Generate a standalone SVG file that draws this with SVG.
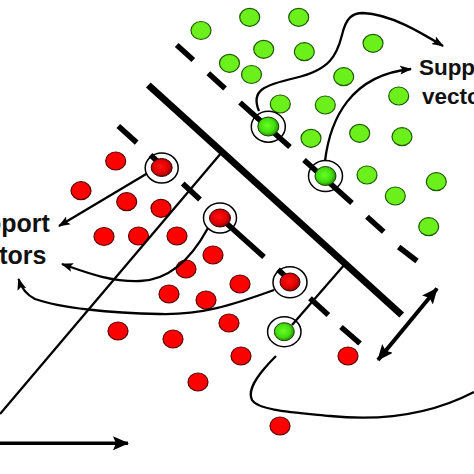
<svg xmlns="http://www.w3.org/2000/svg" width="474" height="474" viewBox="0 0 474 474">
<defs>
<radialGradient id="gR" cx="0.45" cy="0.45" r="0.6">
<stop offset="0" stop-color="#ff1010"/><stop offset="0.6" stop-color="#e00000"/><stop offset="1" stop-color="#7a0000"/>
</radialGradient>
<radialGradient id="gG" cx="0.45" cy="0.45" r="0.6">
<stop offset="0" stop-color="#66ff22"/><stop offset="0.6" stop-color="#44dd10"/><stop offset="1" stop-color="#1a7a00"/>
</radialGradient>
<marker id="ah" markerUnits="userSpaceOnUse" markerWidth="12" markerHeight="10" viewBox="0 0 12 10" refX="11" refY="5" orient="auto">
<path d="M0,0.5 L12,5 L0,9.5 L2.5,5 z" fill="#000"/>
</marker>
<marker id="ahb" markerUnits="userSpaceOnUse" markerWidth="16" markerHeight="14" viewBox="0 0 16 14" refX="15" refY="7" orient="auto-start-reverse">
<path d="M0,0 L16,7 L0,14 L3,7 z" fill="#000"/>
</marker>
</defs>
<style>
.r{fill:#ff0000;stroke:#5a0000;stroke-width:1.2}
.g{fill:#6cf01c;stroke:#1f5a00;stroke-width:1.2}
.ring{fill:none;stroke:#000;stroke-width:1.5}
.ri{fill:url(#gR);stroke:#3a0000;stroke-width:1}
.gi{fill:url(#gG);stroke:#1a4000;stroke-width:1}
.dash{stroke:#000;stroke-width:5.5;stroke-linecap:butt;fill:none}
.thin{stroke:#000;stroke-width:2.3;fill:none}
.lbl{font-family:"Liberation Sans",Arial,sans-serif;font-weight:bold;fill:#111;text-anchor:middle}
</style>
<rect width="474" height="474" fill="#fff"/>

<g id="red-points">
<g id="r1"><ellipse class="r" cx="115.7" cy="161" rx="10" ry="9"/></g>
<g id="r2"><ellipse class="r" cx="81" cy="190.7" rx="10" ry="9"/></g>
<g id="r3"><ellipse class="r" cx="126.7" cy="201.7" rx="10" ry="9"/></g>
<g id="r4"><ellipse class="r" cx="161" cy="208.3" rx="10" ry="9"/></g>
<g id="r5"><ellipse class="r" cx="104" cy="236.5" rx="10" ry="9"/></g>
<g id="r6"><ellipse class="r" cx="138.5" cy="236" rx="10" ry="9"/></g>
<g id="r7"><ellipse class="r" cx="177" cy="236" rx="10" ry="9"/></g>
<g id="r8"><ellipse class="r" cx="213" cy="255" rx="10" ry="9"/></g>
<g id="r9"><ellipse class="r" cx="186" cy="269" rx="10" ry="9"/></g>
<g id="r10"><ellipse class="r" cx="169" cy="294" rx="10" ry="9"/></g>
<g id="r11"><ellipse class="r" cx="206" cy="300" rx="10" ry="9"/></g>
<g id="r12"><ellipse class="r" cx="240" cy="284" rx="10" ry="9"/></g>
<g id="r13"><ellipse class="r" cx="229" cy="323" rx="10" ry="9"/></g>
<g id="r14"><ellipse class="r" cx="241" cy="356" rx="10" ry="9"/></g>
<g id="r15"><ellipse class="r" cx="118" cy="331" rx="10" ry="9"/></g>
<g id="r16"><ellipse class="r" cx="173" cy="339" rx="10" ry="9"/></g>
<g id="r17"><ellipse class="r" cx="198" cy="382" rx="10" ry="9"/></g>
<g id="r18"><ellipse class="r" cx="348" cy="356" rx="10" ry="9"/></g>
<g id="r19"><ellipse class="r" cx="280" cy="426" rx="10" ry="9"/></g>
</g>

<g id="green-points">
<g id="g1"><ellipse class="g" cx="201" cy="30.5" rx="10" ry="9"/></g>
<g id="g2"><ellipse class="g" cx="249.7" cy="17.3" rx="10" ry="9"/></g>
<g id="g3"><ellipse class="g" cx="298.7" cy="17.3" rx="10" ry="9"/></g>
<g id="g4"><ellipse class="g" cx="229.5" cy="63.3" rx="10" ry="9"/></g>
<g id="g5"><ellipse class="g" cx="263.7" cy="49.3" rx="10" ry="9"/></g>
<g id="g6"><ellipse class="g" cx="304.3" cy="51.7" rx="10" ry="9"/></g>
<g id="g7"><ellipse class="g" cx="373" cy="43.3" rx="10" ry="9"/></g>
<g id="g8"><ellipse class="g" cx="251.5" cy="74.5" rx="10" ry="9"/></g>
<g id="g9"><ellipse class="g" cx="343.7" cy="76.7" rx="10" ry="9"/></g>
<g id="g10"><ellipse class="g" cx="280.3" cy="104" rx="10" ry="9"/></g>
<g id="g11"><ellipse class="g" cx="325.3" cy="105" rx="10" ry="9"/></g>
<g id="g12"><ellipse class="g" cx="398.7" cy="96" rx="10" ry="9"/></g>
<g id="g13"><ellipse class="g" cx="359.7" cy="133.3" rx="10" ry="9"/></g>
<g id="g14"><ellipse class="g" cx="402" cy="136.7" rx="10" ry="9"/></g>
<g id="g15"><ellipse class="g" cx="311" cy="138.3" rx="10" ry="9"/></g>
<g id="g16"><ellipse class="g" cx="367" cy="175" rx="10" ry="9"/></g>
<g id="g17"><ellipse class="g" cx="395.3" cy="196" rx="10" ry="9"/></g>
<g id="g18"><ellipse class="g" cx="436.3" cy="181.7" rx="10" ry="9"/></g>
<g id="g19"><ellipse class="g" cx="428.7" cy="226.7" rx="10" ry="9"/></g>
</g>

<g id="connectors">
<line x1="148.3" y1="85" x2="401.7" y2="315" stroke="#000" stroke-width="7"/>
<g id="upper-margin">
<line class="dash" x1="176.7" y1="45" x2="193.3" y2="60"/>
<line class="dash" x1="208.3" y1="73.3" x2="225" y2="88.5"/>
<line class="dash" x1="240" y1="102.5" x2="290" y2="147"/>
<line class="dash" x1="304" y1="160" x2="352" y2="203"/>
<line class="dash" x1="367" y1="216.7" x2="383.7" y2="231.7"/>
<line class="dash" x1="398.7" y1="247" x2="417" y2="261"/>
</g>
<g id="lower-margin">
<line class="dash" x1="118.3" y1="126" x2="136.7" y2="142.6"/>
<line class="dash" x1="150.5" y1="155" x2="162" y2="165.5"/>
<line class="dash" x1="182.7" y1="183.5" x2="200" y2="199.6"/>
<line class="dash" x1="220" y1="217.5" x2="264" y2="257"/>
<line class="dash" x1="278" y1="269.5" x2="290" y2="280.5"/>
<line class="dash" x1="310" y1="298.3" x2="328.3" y2="315"/>
<line class="dash" x1="341" y1="327" x2="360" y2="343.5"/>
</g>
<line class="thin" x1="222" y1="152" x2="0" y2="414" stroke-width="2.6"/>
<line class="thin" x1="345" y1="264" x2="292" y2="325" stroke-width="2.6"/>
<line x1="0" y1="443.3" x2="128" y2="443.3" stroke="#000" stroke-width="3.6" marker-end="url(#ahb)"/>
<line x1="378" y1="360" x2="437" y2="288.5" stroke="#000" stroke-width="4" marker-start="url(#ahb)" marker-end="url(#ahb)"/>
<line class="thin" x1="147" y1="173.5" x2="59" y2="226" marker-end="url(#ah)"/>
<path class="thin" d="M208,228 C196,250 175,280 140,281 C110,282 85,272 62,264" marker-end="url(#ah)"/>
<path class="thin" d="M274,290 C230,306 200,315 160,314 C110,313 60,308 35,299 C27,295 21,287 18.5,279" marker-end="url(#ah)"/>
<path class="thin" d="M259,111 C250,90 265,85 295,78 C330,70 337,55 342,35 C346,18 352,13 363,13 C390,14 420,32 443,46" marker-end="url(#ah)"/>
<path class="thin" d="M325,161 C330,120 350,75 411,69" marker-end="url(#ah)"/>
<path class="thin" d="M276,356 C262,370 246,388 252,400 C258,410 290,412 330,416 C380,421 430,415 474,392" stroke-width="2.8"/>
</g>

<g id="sv-red-1"><ellipse class="ring" cx="161.7" cy="168" rx="16.5" ry="15"/><ellipse class="ri" cx="161.7" cy="167.5" rx="10.5" ry="9"/></g>
<g id="sv-red-2"><ellipse class="ring" cx="220" cy="218" rx="16.5" ry="15"/><ellipse class="ri" cx="220" cy="218" rx="10.5" ry="9"/></g>
<g id="sv-red-3"><ellipse class="ring" cx="290" cy="282.3" rx="17" ry="15.5"/><ellipse class="ri" cx="290" cy="282" rx="10" ry="9"/></g>
<g id="sv-green-1"><ellipse class="ring" cx="268.3" cy="126.7" rx="17" ry="15.5"/><ellipse class="gi" cx="268.3" cy="126.5" rx="10.5" ry="9.5"/></g>
<g id="sv-green-2"><ellipse class="ring" cx="325.5" cy="176" rx="17" ry="15.5"/><ellipse class="gi" cx="325.5" cy="176" rx="10.5" ry="9.5"/></g>
<g id="green-wrong"><ellipse class="ring" cx="284.3" cy="331.7" rx="16.7" ry="15"/><ellipse class="gi" cx="284.3" cy="331.7" rx="10" ry="9"/></g>

<g id="labels">
<text class="lbl" x="2" y="231.5" font-size="25">Support</text>
<text class="lbl" x="2" y="263.5" font-size="25">vectors</text>
<text class="lbl" x="462" y="75" font-size="22.5">Support</text>
<text class="lbl" x="462" y="103.5" font-size="22.5">vectors</text>
</g>
</svg>
